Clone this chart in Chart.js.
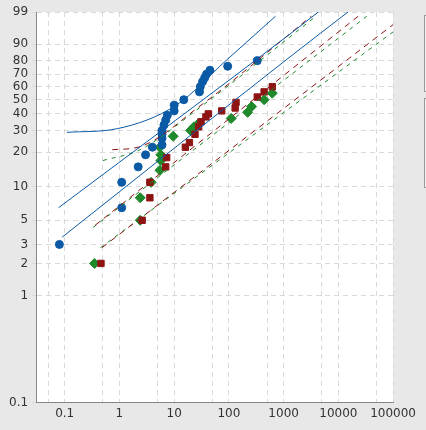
<!DOCTYPE html>
<html>
<head>
<meta charset="utf-8">
<script src="https://cdn.jsdelivr.net/npm/chart.js@4/dist/chart.umd.min.js"></script>
<style>
  body { margin: 0; background: #e8e8e8; overflow: hidden; }
  #myChart { position: absolute; left: 0; top: 0; }
  .box { position: absolute; left: 424px; border: 1px solid #999; width: 10px; background: #f0f0f0; }
</style>
</head>
<body>
<canvas id="myChart" width="420" height="430"></canvas>
<div class="box" style="top:15px;height:75px"></div>
<div class="box" style="top:98px;height:88px"></div>
<script>
// percent ticks on the probability axis
const yTicks = [0.1, 1, 2, 3, 5, 10, 20, 30, 40, 50, 60, 70, 80, 90, 99];
const xGrid = [0.05, 0.1, 0.5, 1, 5, 10, 50, 100, 500, 1000, 5000, 10000, 50000, 100000];
const xLabels = [0.1, 1, 10, 100, 1000, 10000, 100000];

// points [tiempo, % acumulado]
const azulX = [0.08, 1.1, 1.1, 2.2, 3, 4, 6, 6, 6, 6, 6.5, 7, 7.5, 10, 10, 15, 29, 30, 33, 36, 39, 45, 95, 330];
const azulP = [3, 6.5, 11, 15, 19, 22, 23, 26, 28, 30, 33, 36, 39, 42, 46, 50, 56, 60, 64, 67, 70, 73, 76, 80];
const rojoX = [0.46, 2.6, 3.6, 3.6, 7, 7.3, 16, 19, 24, 28, 31, 38, 42, 74, 130, 135, 330, 440, 620];
const rojoP = [2, 5, 8, 11, 15, 18, 22, 24, 28, 32, 35, 38, 40, 42, 44, 48, 52, 56, 60];
const verdeX = [0.35, 2.4, 2.4, 3.8, 5.5, 5.7, 5.7, 5.5, 9.6, 20, 23, 28, 110, 220, 260, 440, 620];
const verdeP = [2, 5, 8, 11, 14, 17, 19, 22, 27, 30, 32, 34, 37, 41, 45, 50, 55];

// fitted lines and confidence bands
const azulSupX = [0.11, 0.92, 10.9, 88, 710];
const azulSupP = [29, 31, 46, 80, 98.5];
const azulAjX = [0.077, 1470, 4300];
const azulAjP = [6.5, 95, 99];
const azulInfX = [0.09, 1470, 15000];
const azulInfP = [3.5, 84, 99];
const rojoSupX = [0.74, 2.2, 31, 3200];
const rojoSupP = [21, 22, 46, 98.5];
const rojoAjX = [0.36, 23000];
const rojoAjP = [4.5, 98.5];
const rojoInfX = [0.48, 100000];
const rojoInfP = [2.8, 97];
const verdeSupX = [0.5, 2.4, 31, 3900];
const verdeSupP = [17, 21, 45, 98.5];
const verdeAjX = [0.33, 33000];
const verdeAjP = [4.3, 98.5];
const verdeInfX = [0.45, 100000];
const verdeInfP = [2.8, 95];

const azul = '#0b5aa6', rojo = '#8e1414', verde = '#1e8a2c';

function w(p) { return Math.log(-Math.log(1 - p / 100)); }
function pts(xs, ps) { return xs.map((x, i) => ({ x: x, y: w(ps[i]) })); }

function linea(xs, ps, color, dash) {
    return { type: 'line', data: pts(xs, ps), borderColor: color, borderWidth: 1,
        borderDash: dash, pointRadius: 0, fill: false, cubicInterpolationMode: 'monotone' };
}
function puntos(xs, ps, color, estilo, r) {
    return { type: 'scatter', data: pts(xs, ps), backgroundColor: color, borderColor: color,
        pointStyle: estilo, pointRadius: r };
}

const fondo = {
    id: 'fondo',
    beforeDraw(chart) {
        const { ctx, chartArea: a } = chart;
        ctx.save();
        ctx.fillStyle = '#e8e8e8';
        ctx.fillRect(0, 0, chart.width, chart.height);
        ctx.fillStyle = '#fff';
        ctx.fillRect(a.left, a.top, a.right - a.left, a.bottom - a.top);
        ctx.restore();
    }
};

new Chart(document.querySelector('#myChart'), {
    data: {
        datasets: [
            linea(azulSupX, azulSupP, azul, []),
            linea(azulAjX, azulAjP, azul, []),
            linea(azulInfX, azulInfP, azul, []),
            linea(rojoSupX, rojoSupP, rojo, [6, 5]),
            linea(rojoAjX, rojoAjP, rojo, [6, 5]),
            linea(rojoInfX, rojoInfP, rojo, [6, 5]),
            linea(verdeSupX, verdeSupP, verde, [4, 5]),
            linea(verdeAjX, verdeAjP, verde, [4, 5]),
            linea(verdeInfX, verdeInfP, verde, [4, 5]),
            puntos(azulX, azulP, azul, 'circle', 4),
            puntos(rojoX, rojoP, rojo, 'rect', 4.5),
            puntos(verdeX, verdeP, verde, 'rectRot', 5)
        ]
    },
    options: {
        responsive: false,
        animation: false,
        devicePixelRatio: 1,
        layout: { padding: { top: 12, right: 26, left: 5, bottom: 5 } },
        plugins: { legend: { display: false }, tooltip: { enabled: false } },
        scales: {
            x: {
                type: 'logarithmic', min: 0.03, max: 100000,
                afterBuildTicks: (s) => { s.ticks = xGrid.map(v => ({ value: v })); },
                ticks: {
                    autoSkip: false, maxRotation: 0, color: '#333', padding: 4,
                    font: { family: 'DejaVu Sans', size: 12 },
                    callback: (v) => xLabels.includes(v) ? String(v) : ''
                },
                grid: { color: '#d9d9d9', drawTicks: false },
                border: { color: '#888', dash: [5, 4] }
            },
            y: {
                type: 'linear', min: w(0.1), max: w(99),
                afterBuildTicks: (s) => { s.ticks = yTicks.map(p => ({ value: w(p) })); },
                ticks: {
                    autoSkip: false, color: '#333', padding: 4,
                    font: { family: 'DejaVu Sans', size: 12 },
                    callback: (v, i) => String(yTicks[i])
                },
                grid: { color: '#d9d9d9', drawTicks: true, tickLength: 4 },
                border: { color: '#888', dash: [5, 4] }
            }
        }
    },
    plugins: [fondo]
});
</script>
</body>
</html>
